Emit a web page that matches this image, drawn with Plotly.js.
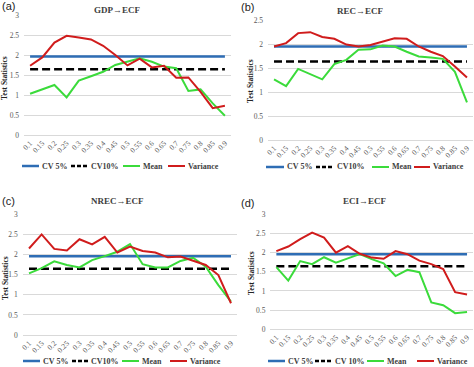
<!DOCTYPE html>
<html><head><meta charset="utf-8">
<script src="https://cdn.plot.ly/plotly-3.0.1.min.js"></script>
<style>body{margin:0;background:#fff}#chart{width:474px;height:367px}</style>
</head><body><div id="chart"></div>
<script>
// ---------- data ----------
const quantiles = ['0.1','0.15','0.2','0.25','0.3','0.35','0.4','0.45','0.5','0.55','0.6','0.65','0.7','0.75','0.8','0.85','0.9'];
const cv5 = 1.96;
const cv10 = 1.645;

const gdpMean = [1.03,1.14,1.25,0.94,1.36,1.47,1.58,1.75,1.83,1.92,1.83,1.71,1.67,1.10,1.14,0.79,0.48];
const gdpVariance = [1.73,1.94,2.31,2.48,2.44,2.39,2.23,2.00,1.74,1.91,1.69,1.73,1.43,1.44,1.08,0.67,0.73];

const recMean = [1.27,1.13,1.49,1.38,1.27,1.59,1.68,1.89,1.90,1.98,1.96,1.85,1.75,1.73,1.70,1.43,0.79];
const recVariance = [1.96,2.03,2.24,2.26,2.16,2.12,2.00,1.96,1.99,2.06,2.13,2.12,1.96,1.85,1.76,1.54,1.31];

const nrecMean = [1.53,1.66,1.83,1.74,1.68,1.86,1.96,2.07,2.26,1.76,1.68,1.68,1.84,1.92,1.70,1.24,0.83];
const nrecVariance = [2.15,2.50,2.14,2.10,2.38,2.25,2.44,2.05,2.20,2.09,2.05,1.93,1.95,1.84,1.74,1.49,0.79];

const eciMean = [1.62,1.27,1.78,1.70,1.88,1.74,1.85,1.96,1.83,1.72,1.39,1.55,1.49,0.70,0.63,0.42,0.45];
const eciVariance = [2.04,2.16,2.35,2.52,2.39,2.00,2.17,1.97,1.87,1.84,2.04,1.96,1.79,1.70,1.57,0.97,0.91];

const panelTitles = ['GDP\u2192ECF','REC\u2192ECF','NREC\u2192ECF','ECI\u2192ECF'];
const panelLabels = ['(a)','(b)','(c)','(d)'];
const yAxisTitle = 'Test Statistics';
const legendNamesABC = ['CV 5%','CV10%','Mean','Variance'];
const legendNamesD = ['CV 5%','CV 10%','Mean','Variance'];

// ---------- styles / layout ----------
const W = 474, H = 367;
const px = v => v / W;
const py = v => 1 - v / H;
const BLUE = '#2E6DB4', GREEN = '#3BDB3B', RED = '#D01C1C', BLACK = '#000000';
const SERIF = 'Liberation Serif, Times New Roman, serif';

const panels = [
  {mean: gdpMean, variance: gdpVariance, names: legendNamesABC,
   xd: [24, 231], yd: [135, 15], yr: [0, 3],
   title: [117, 10], label: [0, 6], ytitle: [4, 78],
   legY: 166, leg: [[22,39],[71,88],[123,140],[168,185]]},
  {mean: recMean, variance: recVariance, names: legendNamesABC,
   xd: [268, 473], yd: [140, 20.7], yr: [0, 2.5],
   title: [360, 11], label: [239, 7], ytitle: [250, 81],
   legY: 167, leg: [[266,284],[316,334],[372,389],[414,430]]},
  {mean: nrecMean, variance: nrecVariance, names: legendNamesABC,
   xd: [22.7, 237.3], yd: [335, 214.3], yr: [0, 3],
   title: [117, 201], label: [0, 201], ytitle: [5, 278],
   legY: 361, leg: [[23,40],[72,88],[122,139],[170,187]]},
  {mean: eciMean, variance: eciVariance, names: legendNamesD,
   xd: [270.4, 473], yd: [329.3, 214.3], yr: [0, 3],
   title: [365, 201], label: [239, 203], ytitle: [251, 273],
   legY: 361, leg: [[268,285],[315,332],[367,384],[417,434]]}
];

const lineStyles = [
  {color: BLUE, width: 2.5},
  {color: BLACK, width: 2.5, dash: '8px,4px'},
  {color: GREEN, width: 2},
  {color: RED, width: 2}
];

const traces = [];
const layout = {
  width: W, height: H,
  margin: {l: 0, r: 0, t: 0, b: 0},
  paper_bgcolor: '#fff', plot_bgcolor: '#fff',
  showlegend: false,
  shapes: [], annotations: []
};

const tickFont = {family: SERIF, size: 7.5, color: '#595959'};

panels.forEach((p, i) => {
  const s = i === 0 ? '' : String(i + 1);
  const series = [
    quantiles.map(() => cv5),
    quantiles.map(() => cv10),
    p.mean,
    p.variance
  ];
  series.forEach((ys, k) => {
    traces.push({
      type: 'scatter', mode: 'lines',
      x: quantiles, y: ys, name: p.names[k],
      xaxis: 'x' + s, yaxis: 'y' + s,
      line: Object.assign({}, lineStyles[k]),
      hoverinfo: 'skip'
    });
  });
  layout['xaxis' + s] = {
    domain: [px(p.xd[0]), px(p.xd[1])],
    anchor: 'y' + s, type: 'category',
    range: [-0.5, quantiles.length - 0.5],
    tickangle: -45, showgrid: false, zeroline: false,
    showline: true, linecolor: '#D9D9D9', linewidth: 1,
    ticks: '', tickfont: tickFont, fixedrange: true
  };
  layout['yaxis' + s] = {
    domain: [py(p.yd[0]), py(p.yd[1])],
    anchor: 'x' + s, range: p.yr, dtick: 0.5,
    showgrid: true, gridcolor: '#D9D9D9', gridwidth: 1,
    zeroline: false, showline: false, ticks: '',
    tickfont: tickFont, ticklabelstandoff: 4, fixedrange: true
  };
  // panel title
  layout.annotations.push({
    xref: 'paper', yref: 'paper', x: px(p.title[0]), y: py(p.title[1]),
    text: '<b>' + panelTitles[i] + '</b>', showarrow: false,
    xanchor: 'center', yanchor: 'middle',
    font: {family: SERIF, size: 9, color: '#404040'}
  });
  // panel letter
  layout.annotations.push({
    xref: 'paper', yref: 'paper', x: px(p.label[0]), y: py(p.label[1]),
    text: panelLabels[i], showarrow: false,
    xanchor: 'left', yanchor: 'middle',
    font: {family: 'Liberation Sans, Arial, sans-serif', size: 11, color: '#222'}
  });
  // y title
  layout.annotations.push({
    xref: 'paper', yref: 'paper', x: px(p.ytitle[0]), y: py(p.ytitle[1]),
    text: '<b>' + yAxisTitle + '</b>', showarrow: false, textangle: -90,
    xanchor: 'center', yanchor: 'middle',
    font: {family: SERIF, size: 7.5, color: '#222'}
  });
  // legend
  p.leg.forEach((seg, k) => {
    const st = lineStyles[k];
    layout.shapes.push({
      type: 'line', xref: 'paper', yref: 'paper',
      x0: px(seg[0]), x1: px(seg[1]), y0: py(p.legY), y1: py(p.legY),
      line: {color: st.color, width: st.width, dash: k === 1 ? '4px,2px' : 'solid'}
    });
    layout.annotations.push({
      xref: 'paper', yref: 'paper', x: px(seg[1] + 1), y: py(p.legY),
      text: '<b>' + p.names[k] + '</b>', showarrow: false,
      xanchor: 'left', yanchor: 'middle',
      font: {family: SERIF, size: 8, color: '#404040'}
    });
  });
});

Plotly.newPlot('chart', traces, layout, {staticPlot: true, displayModeBar: false});
</script>
</body></html>
